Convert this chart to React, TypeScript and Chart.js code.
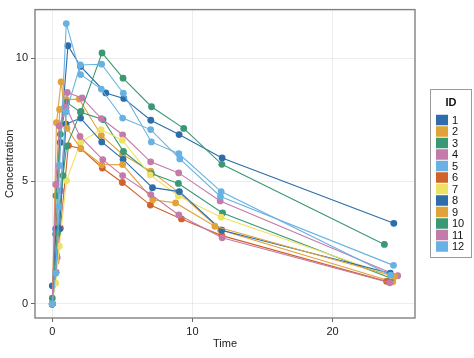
import React, { useEffect, useRef } from "react";
import { Chart, registerables } from "chart.js";

Chart.register(...registerables);

const ids = ["1", "2", "3", "4", "5", "6", "7", "8", "9", "10", "11", "12"];

const timeValues: number[][] = [
  [0, 0.25, 0.57, 1.12, 2.02, 3.82, 5.1, 7.03, 9.05, 12.12, 24.37],
  [0, 0.27, 0.52, 1.0, 1.92, 3.5, 5.02, 7.03, 9.0, 12.0, 24.3],
  [0, 0.27, 0.58, 1.02, 2.02, 3.62, 5.08, 7.07, 9.0, 12.15, 24.17],
  [0, 0.35, 0.6, 1.07, 2.13, 3.5, 5.02, 7.02, 9.02, 11.98, 24.65],
  [0, 0.3, 0.52, 1.0, 2.02, 3.5, 5.02, 7.02, 9.1, 12.0, 24.35],
  [0, 0.27, 0.58, 1.15, 2.03, 3.57, 5.0, 7.0, 9.22, 12.1, 23.85],
  [0, 0.25, 0.5, 1.02, 2.02, 3.48, 5.0, 6.98, 9.0, 12.05, 24.22],
  [0, 0.25, 0.52, 0.98, 2.02, 3.53, 5.05, 7.15, 9.07, 12.1, 24.12],
  [0, 0.3, 0.63, 1.05, 2.02, 3.53, 5.02, 7.17, 8.8, 11.6, 24.43],
  [0, 0.37, 0.77, 1.02, 2.05, 3.55, 5.05, 7.08, 9.38, 12.1, 23.7],
  [0, 0.25, 0.5, 0.98, 1.98, 3.6, 5.02, 7.03, 9.03, 12.12, 24.08],
  [0, 0.25, 0.5, 1.0, 2.0, 3.52, 5.07, 7.07, 9.03, 12.05, 24.15],
];

const concValues: number[][] = [
  [0.74, 2.84, 6.57, 10.5, 9.66, 8.58, 8.36, 7.47, 6.89, 5.94, 3.28],
  [0.0, 1.72, 7.91, 8.31, 8.33, 6.85, 6.08, 5.4, 4.55, 3.01, 0.9],
  [0.0, 4.4, 6.9, 8.2, 7.8, 7.5, 6.2, 5.3, 4.9, 3.7, 1.05],
  [0.0, 1.89, 4.6, 8.6, 8.38, 7.54, 6.88, 5.78, 5.33, 4.19, 1.15],
  [0.0, 2.02, 5.63, 11.4, 9.33, 8.74, 7.56, 7.09, 5.9, 4.37, 1.57],
  [0.0, 1.29, 3.08, 6.44, 6.32, 5.53, 4.94, 4.02, 3.46, 2.78, 0.92],
  [0.15, 0.85, 2.35, 5.02, 6.58, 7.09, 6.66, 5.25, 4.39, 3.53, 1.15],
  [0.0, 3.05, 3.05, 7.31, 7.56, 6.59, 5.88, 4.73, 4.57, 3.0, 1.25],
  [0.0, 7.37, 9.03, 7.14, 6.33, 5.66, 5.67, 4.24, 4.11, 3.16, 1.12],
  [0.24, 2.89, 5.22, 6.41, 7.83, 10.21, 9.18, 8.02, 7.14, 5.68, 2.42],
  [0.0, 4.86, 7.24, 8.0, 6.81, 5.87, 5.22, 4.45, 3.62, 2.69, 0.86],
  [0.0, 1.25, 3.96, 7.82, 9.72, 9.75, 8.57, 6.59, 6.11, 4.57, 1.17],
];

const xTicks = [0, 10, 20];
const yTicks = [0, 5, 10];

const palette = ["#2C6DAA", "#E2A23A", "#3A9874", "#C47AAA", "#68B2E3", "#D0622C", "#EEE264"];

const FONT = "'Liberation Sans', Arial, Helvetica, sans-serif";

const framePlugin = {
  id: "frame",
  afterDraw(chart: any) {
    const { ctx, chartArea } = chart;
    ctx.save();
    ctx.strokeStyle = "#808080";
    ctx.lineWidth = 1.4;
    ctx.strokeRect(chartArea.left, chartArea.top, chartArea.right - chartArea.left, chartArea.bottom - chartArea.top);
    ctx.restore();
  },
};

const legendPlugin = {
  id: "customLegend",
  afterDraw(chart: any) {
    const { ctx } = chart;
    const boxL = 430, boxT = 89, boxR = 472, boxB = 258;
    ctx.save();
    ctx.fillStyle = "#ffffff";
    ctx.fillRect(boxL, boxT, boxR - boxL, boxB - boxT);
    ctx.strokeStyle = "#9a9a9a";
    ctx.lineWidth = 1;
    ctx.strokeRect(boxL + 0.5, boxT + 0.5, boxR - boxL - 1, boxB - boxT - 1);
    ctx.fillStyle = "#111";
    ctx.font = `bold 11px ${FONT}`;
    ctx.textAlign = "center";
    ctx.textBaseline = "middle";
    ctx.fillText("ID", (boxL + boxR) / 2, 103);
    ctx.font = `11px ${FONT}`;
    ctx.textAlign = "left";
    const rowStart = 120;
    const rowStep = 11.5;
    ids.forEach((id, i) => {
      const cy = rowStart + i * rowStep;
      ctx.fillStyle = palette[i % palette.length];
      ctx.fillRect(436, cy - 5.25, 12, 10.5);
      ctx.fillStyle = "#111";
      ctx.fillText(id, 452, cy + 0.5);
    });
    ctx.restore();
  },
};

export default function App() {
  const canvasRef = useRef<HTMLCanvasElement | null>(null);

  useEffect(() => {
    if (!canvasRef.current) return;
    const datasets = ids.map((id, i) => {
      const color = palette[i % palette.length];
      return {
        label: id,
        data: timeValues[i].map((t, j) => ({ x: t, y: concValues[i][j] })),
        borderColor: color,
        backgroundColor: color,
        borderWidth: 1.1,
        pointRadius: 3.4,
        pointBorderWidth: 0,
        pointBackgroundColor: color,
        showLine: true,
        tension: 0,
        order: ids.length - i,
      };
    });
    const chart = new Chart(canvasRef.current, {
      type: "scatter",
      data: { datasets },
      options: {
        responsive: false,
        animation: false,
        layout: { padding: { top: 4, right: 59, left: 0, bottom: 0 } },
        plugins: { legend: { display: false }, tooltip: { enabled: false } },
        scales: {
          x: {
            type: "linear",
            min: -1.2325,
            max: 25.8825,
            afterBuildTicks: (scale: any) => {
              scale.ticks = xTicks.map((v) => ({ value: v }));
            },
            afterFit: (scale: any) => {
              scale.height = 40;
            },
            grid: { color: "rgba(0,0,0,0.07)", tickLength: 4, tickColor: "#666", lineWidth: 1 },
            border: { display: false },
            ticks: { color: "#222", font: { family: FONT, size: 11 }, padding: 3, maxRotation: 0 },
            title: { display: true, text: "Time", color: "#222", font: { family: FONT, size: 11 }, padding: { top: 0, bottom: 7 } },
          },
          y: {
            type: "linear",
            min: -0.57,
            max: 11.97,
            afterBuildTicks: (scale: any) => {
              scale.ticks = yTicks.map((v) => ({ value: v }));
            },
            afterFit: (scale: any) => {
              scale.width = 35;
            },
            grid: { color: "rgba(0,0,0,0.07)", tickLength: 4, tickColor: "#666", lineWidth: 1 },
            border: { display: false },
            ticks: { color: "#222", font: { family: FONT, size: 11 }, padding: 3 },
            title: { display: true, text: "Concentration", color: "#222", font: { family: FONT, size: 11 }, padding: { top: 3, bottom: 0 } },
          },
        },
      },
      plugins: [framePlugin, legendPlugin],
    } as any);
    return () => chart.destroy();
  }, []);

  return (
    <div style={{ position: "fixed", left: 0, top: 0, width: 474, height: 358, background: "#fff" }}>
      <canvas ref={canvasRef} width={474} height={358} />
    </div>
  );
}
